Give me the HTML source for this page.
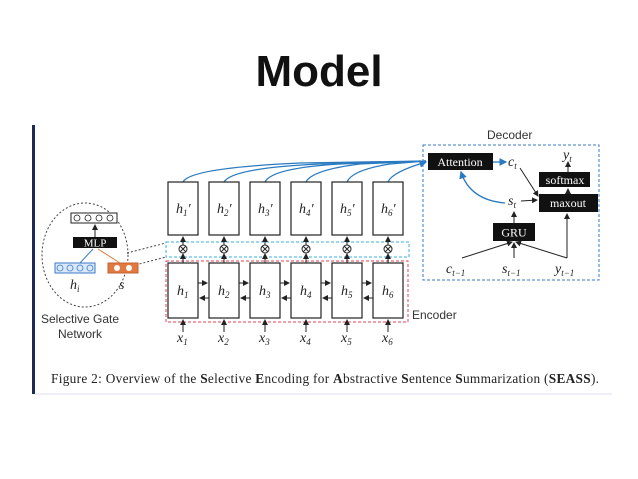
<!DOCTYPE html>
<html><head><style>html,body{margin:0;padding:0;background:#fff;width:638px;height:479px;overflow:hidden}</style></head><body>
<svg width="638" height="479" viewBox="0 0 638 479" xmlns="http://www.w3.org/2000/svg">
<defs><marker id="a" markerWidth="6" markerHeight="6" refX="5" refY="3" orient="auto"><path d="M0,0L6,3L0,6z" fill="#222"/></marker>
<marker id="b" markerWidth="6" markerHeight="6" refX="5" refY="3" orient="auto"><path d="M0,0L6,3L0,6z" fill="#2a7ac0"/></marker></defs>
<text x="319" y="86" font-family="Liberation Sans, sans-serif" font-size="44" font-weight="bold" text-anchor="middle" fill="#111">Model</text>
<rect x="32" y="125" width="3" height="269" fill="#1c2a5a"/>
<line x1="35" y1="394" x2="612" y2="394" stroke="#dde" stroke-width="1"/>
<g font-family="Liberation Serif, serif" font-style="italic" fill="#222">
<g fill="none" stroke="#2a7ac0" stroke-width="1.3">
<path d="M183 182 Q190 168 300 163 L426 161"/><path d="M224 182 Q232 168 320 164 L426 161"/><path d="M265 182 Q272 168 340 164 L426 161"/><path d="M306 182 Q312 170 360 164 L426 161"/><path d="M347 182 Q352 170 390 164 L426 161"/><path d="M388 182 Q392 172 426 162" marker-end="url(#b)"/>
<path d="M493 162 L506 162" marker-end="url(#b)"/>
<path d="M505 203 Q470 200 461 172" marker-end="url(#b)"/>
</g>
<g stroke="#222" stroke-width="1.2" fill="#fff">
<rect x="168" y="182" width="30" height="53"/><rect x="209" y="182" width="30" height="53"/><rect x="250" y="182" width="30" height="53"/><rect x="291" y="182" width="30" height="53"/><rect x="332" y="182" width="30" height="53"/><rect x="373" y="182" width="30" height="53"/>
<rect x="168" y="263" width="30" height="55"/><rect x="209" y="263" width="30" height="55"/><rect x="250" y="263" width="30" height="55"/><rect x="291" y="263" width="30" height="55"/><rect x="332" y="263" width="30" height="55"/><rect x="373" y="263" width="30" height="55"/>
</g>
<rect x="166" y="242" width="243" height="15" fill="none" stroke="#3ab0e0" stroke-dasharray="3,2"/>
<rect x="166" y="261" width="242" height="61" fill="none" stroke="#e04050" stroke-dasharray="3,2"/>
<g stroke="#222" stroke-width="1" fill="none">
<g id="col"><circle cx="183" cy="249" r="4"/><path d="M180 246l6 6M186 246l-6 6"/><line x1="183" y1="263" x2="183" y2="254" marker-end="url(#a)"/><line x1="183" y1="245" x2="183" y2="237" marker-end="url(#a)"/><line x1="183" y1="332" x2="183" y2="320" marker-end="url(#a)"/></g>
<use href="#col" x="41"/><use href="#col" x="82"/><use href="#col" x="123"/><use href="#col" x="164"/><use href="#col" x="205"/>
<g id="hz"><line x1="198" y1="283" x2="207" y2="283" marker-end="url(#a)"/><line x1="209" y1="298" x2="200" y2="298" marker-end="url(#a)"/></g>
<use href="#hz" x="41"/><use href="#hz" x="82"/><use href="#hz" x="123"/><use href="#hz" x="164"/>
</g>
<g font-size="14">
<text x="176" y="213">h<tspan font-size="9" dy="3">1</tspan><tspan dy="-3">′</tspan></text><text x="217" y="213">h<tspan font-size="9" dy="3">2</tspan><tspan dy="-3">′</tspan></text><text x="258" y="213">h<tspan font-size="9" dy="3">3</tspan><tspan dy="-3">′</tspan></text><text x="299" y="213">h<tspan font-size="9" dy="3">4</tspan><tspan dy="-3">′</tspan></text><text x="340" y="213">h<tspan font-size="9" dy="3">5</tspan><tspan dy="-3">′</tspan></text><text x="381" y="213">h<tspan font-size="9" dy="3">6</tspan><tspan dy="-3">′</tspan></text>
<text x="177" y="295">h<tspan font-size="9" dy="3">1</tspan></text><text x="218" y="295">h<tspan font-size="9" dy="3">2</tspan></text><text x="259" y="295">h<tspan font-size="9" dy="3">3</tspan></text><text x="300" y="295">h<tspan font-size="9" dy="3">4</tspan></text><text x="341" y="295">h<tspan font-size="9" dy="3">5</tspan></text><text x="382" y="295">h<tspan font-size="9" dy="3">6</tspan></text>
<text x="177" y="342">x<tspan font-size="9" dy="3">1</tspan></text><text x="218" y="342">x<tspan font-size="9" dy="3">2</tspan></text><text x="259" y="342">x<tspan font-size="9" dy="3">3</tspan></text><text x="300" y="342">x<tspan font-size="9" dy="3">4</tspan></text><text x="341" y="342">x<tspan font-size="9" dy="3">5</tspan></text><text x="382" y="342">x<tspan font-size="9" dy="3">6</tspan></text>
</g>
<ellipse cx="85" cy="255" rx="43" ry="52" fill="none" stroke="#444" stroke-dasharray="2,2"/>
<path d="M127 253 L166 243 M124 268 L166 257" stroke="#444" stroke-dasharray="2,2" fill="none"/>
<rect x="71" y="213" width="46" height="10" fill="#fff" stroke="#222"/>
<g fill="none" stroke="#222" stroke-width="0.8"><circle cx="77" cy="218" r="3"/><circle cx="88" cy="218" r="3"/><circle cx="99" cy="218" r="3"/><circle cx="110" cy="218" r="3"/></g>
<line x1="95" y1="237" x2="95" y2="225" stroke="#222" marker-end="url(#a)"/>
<rect x="73" y="237" width="44" height="11" fill="#111"/>
<text x="95" y="246.5" font-style="normal" font-size="11" fill="#fff" text-anchor="middle">MLP</text>
<rect x="55" y="263" width="40" height="10" fill="#dbe8f7" stroke="#3a7ac8"/>
<g fill="none" stroke="#3a7ac8" stroke-width="0.8"><circle cx="60" cy="268" r="3"/><circle cx="70" cy="268" r="3"/><circle cx="80" cy="268" r="3"/><circle cx="90" cy="268" r="3"/></g>
<rect x="108" y="263" width="30" height="10" fill="#e07a40" stroke="#c06030"/>
<circle cx="117" cy="268" r="3" fill="#fff"/><circle cx="129" cy="268" r="3" fill="#fff"/>
<line x1="80" y1="263" x2="93" y2="249" stroke="#3a7ac8"/><line x1="120" y1="263" x2="98" y2="249" stroke="#e07a40"/>
<text x="70" y="289" font-size="14">h<tspan font-size="9" dy="3">i</tspan></text><text x="119" y="289" font-size="14">s</text>
<text x="80" y="323" font-family="Liberation Sans, sans-serif" font-style="normal" font-size="12" text-anchor="middle" fill="#333">Selective Gate</text>
<text x="80" y="338" font-family="Liberation Sans, sans-serif" font-style="normal" font-size="12" text-anchor="middle" fill="#333">Network</text>
<text x="412" y="319" font-family="Liberation Sans, sans-serif" font-style="normal" font-size="12" fill="#333">Encoder</text>
<rect x="423" y="145" width="176" height="135" fill="none" stroke="#3a7ac8" stroke-dasharray="3,2"/>
<text x="487" y="139" font-family="Liberation Sans, sans-serif" font-style="normal" font-size="12" fill="#333">Decoder</text>
<rect x="428" y="153" width="65" height="17" fill="#111"/><text x="460" y="166" font-style="normal" font-size="12" fill="#fff" text-anchor="middle">Attention</text>
<rect x="539" y="172" width="51" height="15" fill="#111"/><text x="565" y="184" font-style="normal" font-size="12" fill="#fff" text-anchor="middle">softmax</text>
<rect x="539" y="194" width="59" height="18" fill="#111"/><text x="568" y="207" font-style="normal" font-size="12" fill="#fff" text-anchor="middle">maxout</text>
<rect x="493" y="223" width="42" height="18" fill="#111"/><text x="514" y="236.5" font-style="normal" font-size="12" fill="#fff" text-anchor="middle">GRU</text>
<text x="508" y="166" font-size="14">c<tspan font-size="9" dy="3">t</tspan></text>
<text x="508" y="205" font-size="14">s<tspan font-size="9" dy="3">t</tspan></text>
<text x="563" y="159" font-size="14">y<tspan font-size="9" dy="3">t</tspan></text>
<text x="446" y="273" font-size="14">c<tspan font-size="9" dy="3">t−1</tspan></text>
<text x="502" y="273" font-size="14">s<tspan font-size="9" dy="3">t−1</tspan></text>
<text x="555" y="273" font-size="14">y<tspan font-size="9" dy="3">t−1</tspan></text>
<g stroke="#222" fill="none" stroke-width="1">
<line x1="568" y1="172" x2="568" y2="162" marker-end="url(#a)"/>
<line x1="568" y1="194" x2="568" y2="189" marker-end="url(#a)"/>
<line x1="521" y1="201" x2="537" y2="200" marker-end="url(#a)"/>
<line x1="520" y1="168" x2="538" y2="196" marker-end="url(#a)"/>
<line x1="514" y1="223" x2="514" y2="212" marker-end="url(#a)"/>
<line x1="462" y1="258" x2="512" y2="242" marker-end="url(#a)"/>
<line x1="514" y1="258" x2="514" y2="243" marker-end="url(#a)"/>
<line x1="567" y1="258" x2="516" y2="242" marker-end="url(#a)"/>
<line x1="567" y1="258" x2="567" y2="214" marker-end="url(#a)"/>
</g>
</g>
<text x="51" y="383" font-family="Liberation Serif, serif" font-size="13.3" fill="#222" textLength="548">Figure 2:  Overview of the <tspan font-weight="bold">S</tspan>elective <tspan font-weight="bold">E</tspan>ncoding for <tspan font-weight="bold">A</tspan>bstractive <tspan font-weight="bold">S</tspan>entence <tspan font-weight="bold">S</tspan>ummarization (<tspan font-weight="bold">SEASS</tspan>).</text>
</svg>
</body></html>
